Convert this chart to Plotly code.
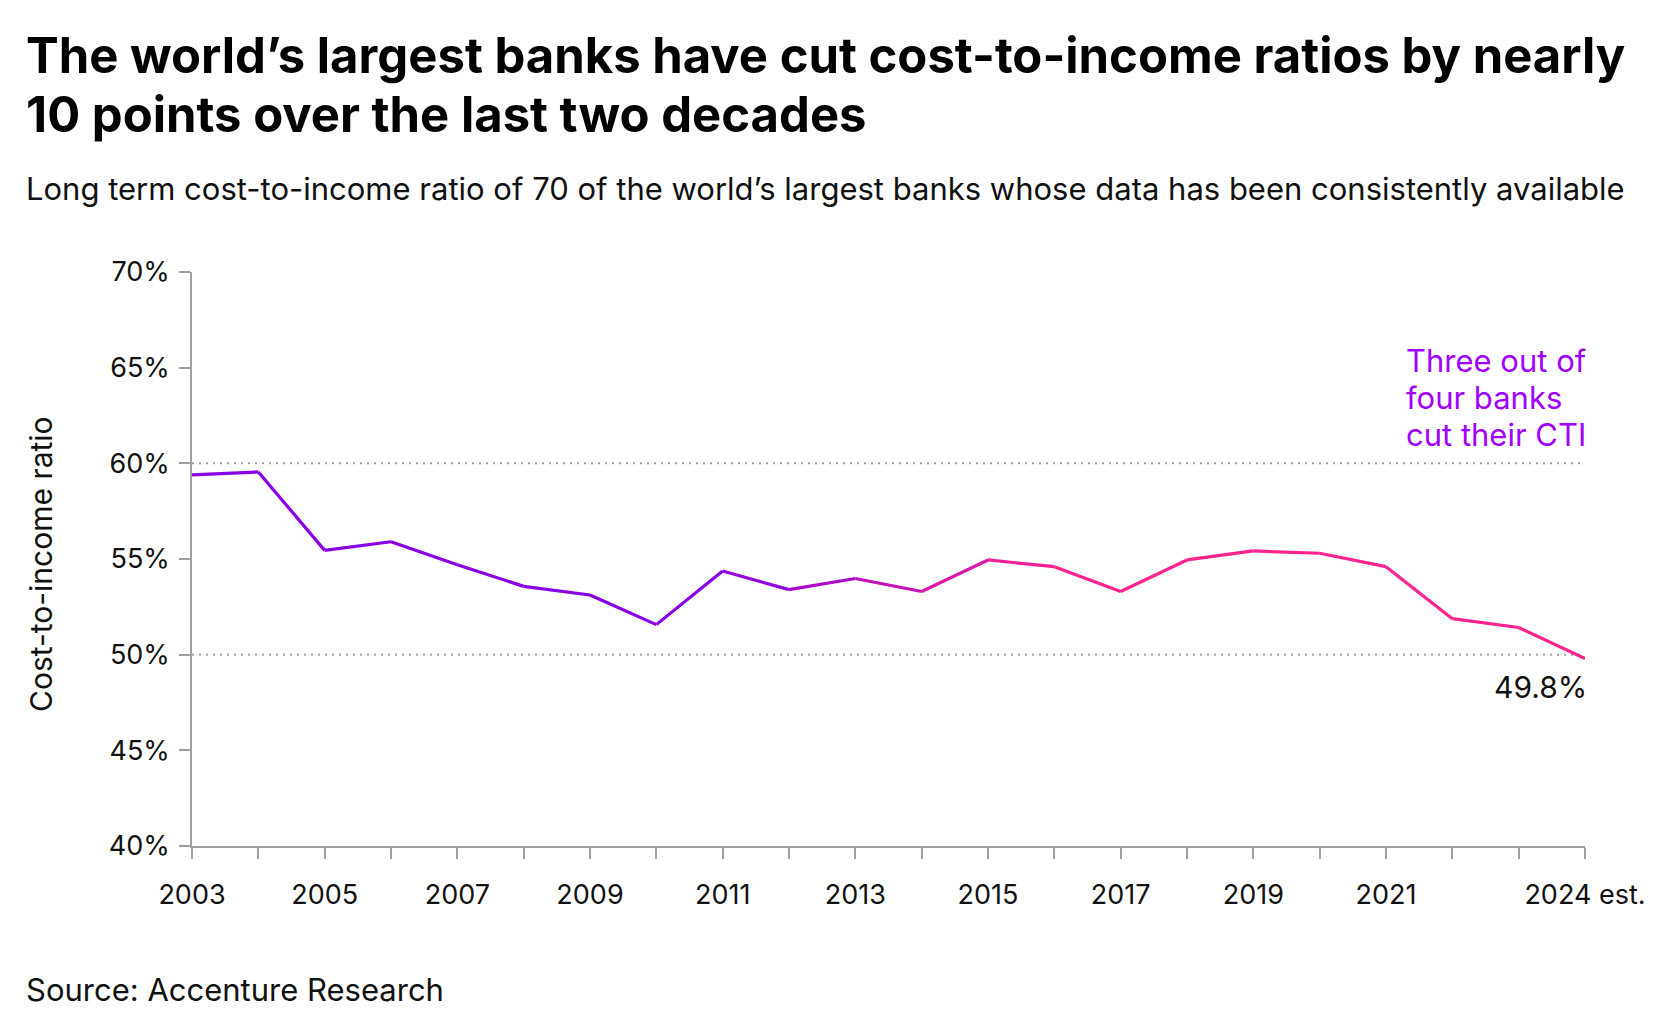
import plotly.graph_objects as go

# ---- data ----
years = list(range(2003, 2025))
cti = [59.4, 59.55, 55.45, 55.9, 54.7, 53.57, 53.12, 51.57, 54.37,
       53.4, 53.98, 53.3, 54.95, 54.6, 53.3, 54.95, 55.42, 55.3,
       54.6, 51.88, 51.42, 49.8]
tick_labels = ["2003", "", "2005", "", "2007", "", "2009", "", "2011", "",
               "2013", "", "2015", "", "2017", "", "2019", "", "2021", "",
               "", "2024 est."]
y_ticks = [40, 45, 50, 55, 60, 65, 70]
ref_lines = [50, 60]
end_label = "49.8%"
title_lines = ["The world’s largest banks have cut cost-to-income ratios by nearly",
               "10 points over the last two decades"]
subtitle = "Long term cost-to-income ratio of 70 of the world’s largest banks whose data has been consistently available"
note_lines = ["Three out of", "four banks", "cut their CTI"]
source = "Source: Accenture Research"

W, H = 1680, 1030
L, R, T, B = 192, 95, 272, 184
FONT = "Inter, 'Open Sans', sans-serif"

def px(xp):
    return (xp - L) / (W - L - R)

def py(yp):
    return (H - B - yp) / (H - T - B)

def lerp_color(c1, c2, t):
    a = [int(c1[i:i + 2], 16) for i in (1, 3, 5)]
    b = [int(c2[i:i + 2], 16) for i in (1, 3, 5)]
    return "#%02x%02x%02x" % tuple(round(a[k] + (b[k] - a[k]) * t) for k in range(3))

C_START, C_END = "#8800e4", "#ff2390"

fig = go.Figure()
for i in range(len(years) - 1):
    mid = (years[i] + years[i + 1]) / 2
    t = min(max((mid - 2011) / (2016 - 2011), 0), 1)
    fig.add_trace(go.Scatter(
        x=years[i:i + 2], y=cti[i:i + 2], mode="lines",
        line=dict(color=lerp_color(C_START, C_END, t), width=3.2),
        showlegend=False, hoverinfo="skip", cliponaxis=False))

for v in ref_lines:
    fig.add_shape(type="line", xref="x", yref="y", x0=years[0], x1=years[-1],
                  y0=v, y1=v, line=dict(color="#a0a0a0", width=2, dash="2px,5px"),
                  layer="below")

annos = []
for k, (line, yc) in enumerate(zip(title_lines, [55, 115])):
    annos.append(dict(x=px(24), y=py(yc), xanchor="left", yanchor="middle", align="left",
                      text=f"<b>{line}</b>",
                      font=dict(size=49, color="#000000", family=FONT)))
annos.append(dict(x=px(24), y=py(188), xanchor="left", yanchor="middle", align="left",
                  text=subtitle, font=dict(size=31, color="#111111", family=FONT)))
annos.append(dict(x=px(41), y=py(564), xanchor="center", yanchor="middle", textangle=-90,
                  text="Cost-to-income ratio", font=dict(size=30, color="#111111", family=FONT)))
for line, yc in zip(note_lines, [360, 397, 434]):
    annos.append(dict(x=px(1404), y=py(yc), xanchor="left", yanchor="middle", align="left",
                      text=line, font=dict(size=31, color="#a100ff", family=FONT)))
annos.append(dict(x=years[-1], xref="x", y=py(687), xanchor="right", yanchor="middle",
                  xshift=4, text=end_label, font=dict(size=30, color="#111111", family=FONT)))
annos.append(dict(x=px(24), y=py(989), xanchor="left", yanchor="middle", align="left",
                  text=source, font=dict(size=31, color="#111111", family=FONT)))
for a in annos:
    a.setdefault("xref", "paper")
    a.setdefault("yref", "paper")
    a["showarrow"] = False
    fig.add_annotation(**a)

fig.update_layout(
    width=W, height=H, margin=dict(l=L, r=R, t=T, b=B),
    paper_bgcolor="white", plot_bgcolor="white",
    font=dict(family=FONT, color="#111111"),
    showlegend=False,
    xaxis=dict(range=[years[0], years[-1]], tickvals=years, ticktext=tick_labels,
               showgrid=False, zeroline=False, showline=True, linecolor="#a0a0a0",
               linewidth=1.5, ticks="outside", ticklen=11, tickcolor="#a0a0a0",
               tickwidth=1.5, tickfont=dict(size=27, color="#111111"),
               ticklabelstandoff=13),
    yaxis=dict(range=[40, 70], tickvals=y_ticks, ticktext=[f"{v}%" for v in y_ticks],
               showgrid=False, zeroline=False, showline=True, linecolor="#a0a0a0",
               linewidth=1.5, ticks="outside", ticklen=11, tickcolor="#a0a0a0",
               tickwidth=1.5, tickfont=dict(size=27, color="#111111"),
               ticklabelstandoff=4),
)

fig.write_html("out.html")
